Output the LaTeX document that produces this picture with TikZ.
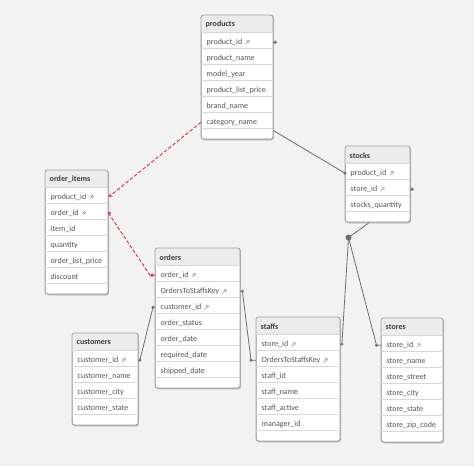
\documentclass[tikz,border=0pt]{standalone}
\usepackage{fontspec}
\setmainfont{Carlito}
\usetikzlibrary{arrows.meta,calc}
\definecolor{bgc}{RGB}{242,242,242}
\definecolor{borderc}{RGB}{160,160,160}
\definecolor{headc}{RGB}{236,236,236}
\definecolor{sepc}{RGB}{215,215,215}
\definecolor{txtc}{RGB}{85,85,85}
\definecolor{htxtc}{RGB}{60,60,60}
\definecolor{relc}{RGB}{110,110,110}
\definecolor{redc}{RGB}{212,64,84}
\definecolor{keyc}{RGB}{150,150,150}
\definecolor{shadc}{RGB}{205,205,205}
\tikzset{
  tablebox/.style={draw=borderc, fill=white, rounded corners=2.5pt, line width=0.7pt, inner sep=0pt},
  rowtext/.style={font=\fontsize{8}{9}\selectfont, text=txtc, inner xsep=5.5pt, inner ysep=0pt, align=left, anchor=north west, minimum height=16pt, yshift=-1pt},
  headtext/.style={font=\fontsize{8}{9}\selectfont\bfseries, text=htxtc, inner sep=0pt, anchor=west},
  rel/.style={draw=relc, line width=0.8pt},
  reldash/.style={draw=redc, line width=1pt, dash pattern=on 3.5pt off 2pt},
  enddot/.style={fill=relc, draw=none},
}
\newcommand\keyic{\hspace{3pt}\tikz[baseline=-0.2pt]{\draw[keyc,line width=0.5pt] (0,0) -- (1.7pt,1.7pt); \draw[keyc,line width=0.5pt] (2.8pt,2.8pt) circle (1.25pt);}}
% #1 name, #2 x, #3 y, #4 width, #5 number of rows, #6 title, #7 rows
\newcommand\dbtable[7]{%
  \pgfmathsetmacro\tbh{17+16*#5+11}
  \fill[shadc, rounded corners=2.5pt] (#2+1.2,#3+1.5) rectangle ++(#4,\tbh);
  \node[tablebox, minimum width=#4pt, minimum height=\tbh pt, anchor=north west] (#1) at (#2,#3) {};
  \begin{scope}
    \clip[rounded corners=2.5pt] (#2,#3) rectangle ++(#4,\tbh);
    \fill[headc] (#2,#3) rectangle ++(#4,17);
  \end{scope}
  \draw[borderc, line width=0.7pt, rounded corners=2.5pt] (#2,#3) rectangle ++(#4,\tbh);
  \node[headtext] (#1-t) at (#2+4.5,#3+9.5) {#6};
  \foreach \r [count=\i] in {#7} {
    \draw[sepc, line width=0.5pt] (#2,#3+1+16*\i) -- ++(#4,0);
    \node[rowtext, text width=#4pt-11pt] (#1-\i) at (#2,#3+2+16*\i) {\r};
  }
  \draw[sepc, line width=0.5pt] (#2,#3+1+16*#5+16) -- ++(#4,0);
}
\begin{document}
\begin{tikzpicture}[x=1pt,y=-1pt]
\fill[bgc] (0,0) rectangle (474,466);
\useasboundingbox (0,0) rectangle (474,466);

\dbtable{products}{201}{15}{72}{6}{products}{product\_id\keyic, product\_name, model\_year, product\_list\_price, brand\_name, category\_name}
\dbtable{stocks}{345}{146}{65}{3}{stocks}{product\_id\keyic, store\_id\keyic, stocks\_quantity}
\dbtable{orderitems}{45}{170}{63}{6}{order\_items}{product\_id\keyic, order\_id\keyic, item\_id, quantity, order\_list\_price, discount}
\dbtable{orders}{155}{248}{85}{7}{orders}{order\_id\keyic, OrdersToStaffsKey\keyic, customer\_id\keyic, order\_status, order\_date, required\_date, shipped\_date}
\dbtable{customers}{72}{333}{66}{4}{customers}{customer\_id\keyic, customer\_name, customer\_city, customer\_state}
\dbtable{staffs}{256}{317}{84}{6}{staffs}{store\_id\keyic, OrdersToStaffsKey\keyic, staff\_id, staff\_name, staff\_active, manager\_id}
\dbtable{stores}{381}{318}{62}{6}{stores}{store\_id\keyic, store\_name, store\_street, store\_city, store\_state, store\_zip\_code}

% small stubs
\draw[rel, -{Triangle[length=3pt,width=3.5pt]}] (products-1.east) -- ++(4,0);
\draw[rel, -{Triangle[length=3pt,width=3.5pt]}] (stocks-2.east) -- ++(4,0);

% products -> stocks
\coordinate (pbr) at ($(products.south east)+(0,-9)$);
\draw[rel] (pbr) -- (stocks-1.west);
\fill[enddot] (stocks-1.west) circle (1.6);

% stocks -> staffs / stores
\coordinate (sbot) at ($(stocks.south west)+(24,0)$);
\coordinate (hub) at (348.5,237.5);
\draw[rel] (sbot) -- (hub);
\fill[enddot] (hub) circle (3);
\draw[rel] (hub) -- ($(staffs-1.east)+(1.5,0)$) -- (staffs-1.east);
\fill[enddot] ($(staffs-1.east)+(1.5,0)$) circle (1.6);
\draw[rel] (hub) -- ($(stores-1.west)+(-4.5,0)$) -- (stores-1.west);
\fill[enddot] ($(stores-1.west)+(-4.5,0)$) circle (1.6);

% customers -> orders
\draw[rel] (customers-1.east) -- ++(1.5,0) -- ($(orders-3.west)+(-2,0)$) -- (orders-3.west);
\fill[enddot] ($(customers-1.east)+(1.5,0)$) circle (1.6);
\fill[enddot] ($(orders-3.west)+(-2,0)$) circle (1.6);

% orders -> staffs
\draw[rel] (orders-2.east) -- ++(2,0) -- ($(staffs-2.west)+(-5,0)$) -- (staffs-2.west);
\fill[enddot] ($(orders-2.east)+(2,0)$) circle (1.6);
\fill[enddot] ($(staffs-2.west)+(-5,0)$) circle (1.6);

% red dashed associations
\draw[reldash, -{Stealth[length=4pt,width=4pt]}] (products-6.west) -- (orderitems-1.east);
\draw[reldash] (orderitems-2.east) -- ($(orders-1.west)+(-5,0)$) -- (orders-1.west);
\fill[redc] ($(orderitems-2.east)+(1,0)$) circle (1.8);
\fill[redc] ($(orders-1.west)+(-3,0)$) circle (1.8);
\end{tikzpicture}
\end{document}
